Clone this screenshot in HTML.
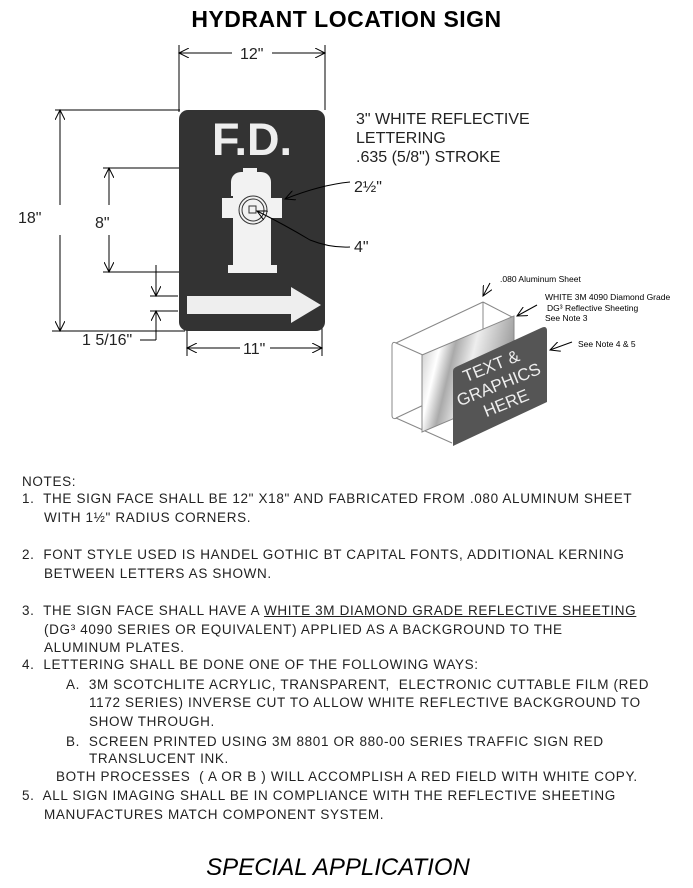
<!DOCTYPE html>
<html><head><style>
body{margin:0;background:#fff;width:693px;height:888px;overflow:hidden;position:relative;font-family:"Liberation Sans",sans-serif;}
.t{position:absolute;font-size:13.5px;color:#222;white-space:nowrap;letter-spacing:0.65px}
</style></head><body>
<div style="position:absolute;left:0;width:693px;top:6px;text-align:center;font-weight:bold;font-size:23px;letter-spacing:0.5px">HYDRANT LOCATION SIGN</div>
<svg width="693" height="888" style="position:absolute;left:0;top:0" font-family="Liberation Sans">
<defs>
<marker id="a" markerWidth="12" markerHeight="10" refX="10" refY="5" orient="auto-start-reverse" markerUnits="userSpaceOnUse"><path d="M0,0 L10,5 L0,10" fill="none" stroke="#000" stroke-width="1"/></marker>
<linearGradient id="g" x1="0" y1="0" x2="1" y2="0.3"><stop offset="0" stop-color="#bbb"/><stop offset="0.25" stop-color="#fff"/><stop offset="0.4" stop-color="#aaa"/><stop offset="0.6" stop-color="#eee"/><stop offset="1" stop-color="#999"/></linearGradient>
</defs>
<g stroke="#000" stroke-width="1" fill="none">
<line x1="179" y1="45" x2="179" y2="112"/><line x1="325" y1="45" x2="325" y2="110"/>
<line x1="179" y1="53" x2="232" y2="53" marker-start="url(#a)"/><line x1="272" y1="53" x2="325" y2="53" marker-end="url(#a)"/>
<line x1="55" y1="110" x2="180" y2="110"/><line x1="52" y1="331" x2="185" y2="331"/>
<line x1="60" y1="110" x2="60" y2="205" marker-start="url(#a)"/><line x1="60" y1="235" x2="60" y2="331" marker-end="url(#a)"/>
<line x1="103" y1="168" x2="243" y2="168"/><line x1="103" y1="272" x2="217" y2="272"/>
<line x1="109" y1="168" x2="109" y2="205" marker-start="url(#a)"/><line x1="109" y1="235" x2="109" y2="272" marker-end="url(#a)"/>
<line x1="150" y1="296" x2="178" y2="296"/><line x1="150" y1="311" x2="178" y2="311"/>
<line x1="156" y1="265" x2="156" y2="296" marker-end="url(#a)"/>
<line x1="156" y1="311" x2="156" y2="340" marker-start="url(#a)"/>
<line x1="140" y1="340" x2="156" y2="340"/>
<line x1="187" y1="320" x2="187" y2="356"/><line x1="322" y1="320" x2="322" y2="356"/>
<line x1="187" y1="348" x2="240" y2="348" marker-start="url(#a)"/><line x1="270" y1="348" x2="322" y2="348" marker-end="url(#a)"/>
</g>
<rect x="179" y="110" width="146" height="221" rx="9" fill="#333"/>
<text x="252" y="155" font-size="45" font-weight="bold" fill="#eee" text-anchor="middle">F.D.</text>
<g fill="#f2f2f2">
<path d="M243,168 h14 v4 h4 a10,10 0 0 1 10,10 v14 h-40 v-14 a10,10 0 0 1 10,-10 h2z"/>
<rect x="233" y="188" width="38" height="78"/>
<rect x="222" y="198" width="14" height="20"/><rect x="268" y="198" width="14" height="20"/>
<rect x="228" y="265" width="49" height="8"/>
</g>
<circle cx="253" cy="210" r="14" fill="none" stroke="#333" stroke-width="1"/>
<circle cx="253" cy="210" r="11" fill="none" stroke="#333" stroke-width="1"/>
<rect x="249" y="206" width="7" height="7" fill="none" stroke="#333"/>
<path d="M187,296 h104 v-9 l30,18 l-30,18 v-9 h-104z" fill="#eee"/>
<g stroke="#000" fill="none">
<path d="M350,182 Q320,185 285,199" marker-end="url(#a)"/>
<path d="M350,247 Q330,248 310,240 Q285,225 257,211" marker-end="url(#a)"/>
</g>
<g font-size="16" fill="#222">
<text x="18" y="223">18"</text><text x="95" y="228">8"</text><text x="240" y="59">12"</text>
<text x="243" y="354">11"</text><text x="82" y="345">1 5/16"</text>
<text x="354" y="192">2½"</text><text x="354" y="252">4"</text>
<text x="356" y="124">3" WHITE REFLECTIVE</text><text x="356" y="143">LETTERING</text><text x="356" y="162">.635 (5/8") STROKE</text>
</g>
<g stroke="#888" fill="none" stroke-width="1">
<path d="M396,343 L483,302 M392,346 L392,415 Q392,420 397,418 M396,418 L430,402 M483,302 L514,318 M483,302 L483,370 M396,343 L452,368 M396,418 L452,443 M392,346 Q392,341 396,343"/>
</g>
<path d="M422,355 L514,316 L514,393 L422,432 Z" fill="url(#g)" stroke="#888"/>
<path d="M458,366 L541,328 Q547,325 547,331 L547,402 L453,446 L453,371 Q453,368 458,366 Z" fill="#555"/>
<g transform="translate(500,388) rotate(-22)" fill="#eee" font-size="17" text-anchor="middle">
<text y="-18">TEXT &amp;</text><text y="2">GRAPHICS</text><text y="22">HERE</text></g>
<g stroke="#000" fill="none"><line x1="490" y1="283" x2="483" y2="296" marker-end="url(#a)"/>
<line x1="537" y1="305" x2="517" y2="316" marker-end="url(#a)"/>
<line x1="572" y1="342" x2="550" y2="350" marker-end="url(#a)"/></g>
<g font-size="8.5" fill="#000"><text x="500" y="282">.080 Aluminum Sheet</text>
<text x="545" y="300">WHITE 3M 4090 Diamond Grade</text><text x="547" y="311">DG³ Reflective Sheeting</text><text x="545" y="321">See Note 3</text>
<text x="578" y="347">See Note 4 &amp; 5</text></g>
</svg>
<div class="t" style="left:22px;top:474px">NOTES:</div>
<div class="t" style="left:22px;top:491px">1.&nbsp; THE SIGN FACE SHALL BE 12" X18" AND FABRICATED FROM .080 ALUMINUM SHEET</div>
<div class="t" style="left:44px;top:510px">WITH 1½" RADIUS CORNERS.</div>
<div class="t" style="left:22px;top:547px">2.&nbsp; FONT STYLE USED IS HANDEL GOTHIC BT CAPITAL FONTS, ADDITIONAL KERNING</div>
<div class="t" style="left:44px;top:566px">BETWEEN LETTERS AS SHOWN.</div>
<div class="t" style="left:22px;top:603px">3.&nbsp; THE SIGN FACE SHALL HAVE A <span style="text-decoration:underline">WHITE 3M DIAMOND GRADE REFLECTIVE SHEETING</span></div>
<div class="t" style="left:44px;top:622px">(DG³ 4090 SERIES OR EQUIVALENT) APPLIED AS A BACKGROUND TO THE</div>
<div class="t" style="left:44px;top:640px">ALUMINUM PLATES.</div>
<div class="t" style="left:22px;top:657px">4.&nbsp; LETTERING SHALL BE DONE ONE OF THE FOLLOWING WAYS:</div>
<div class="t" style="left:66px;top:677px">A.&nbsp; 3M SCOTCHLITE ACRYLIC, TRANSPARENT,&nbsp; ELECTRONIC CUTTABLE FILM (RED</div>
<div class="t" style="left:89px;top:695px">1172 SERIES) INVERSE CUT TO ALLOW WHITE REFLECTIVE BACKGROUND TO</div>
<div class="t" style="left:89px;top:714px">SHOW THROUGH.</div>
<div class="t" style="left:66px;top:734px">B.&nbsp; SCREEN PRINTED USING 3M 8801 OR 880-00 SERIES TRAFFIC SIGN RED</div>
<div class="t" style="left:89px;top:751px">TRANSLUCENT INK.</div>
<div class="t" style="left:56px;top:769px">BOTH PROCESSES&nbsp; ( A OR B ) WILL ACCOMPLISH A RED FIELD WITH WHITE COPY.</div>
<div class="t" style="left:22px;top:788px">5.&nbsp; ALL SIGN IMAGING SHALL BE IN COMPLIANCE WITH THE REFLECTIVE SHEETING</div>
<div class="t" style="left:44px;top:807px">MANUFACTURES MATCH COMPONENT SYSTEM.</div>
<div style="position:absolute;left:0;width:676px;top:854px;text-align:center;font-style:italic;font-size:24px">SPECIAL APPLICATION</div>
</body></html>
